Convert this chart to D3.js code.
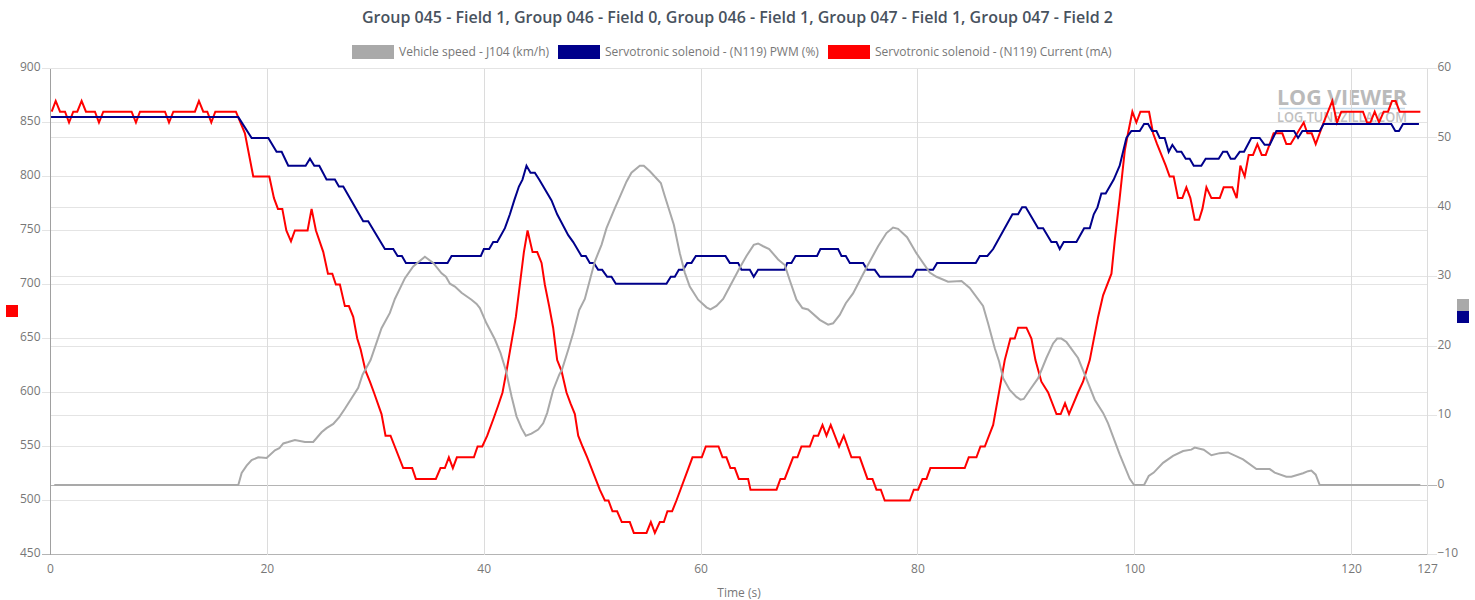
<!DOCTYPE html>
<html>
<head>
<meta charset="utf-8">
<script src="https://d3js.org/d3.v7.min.js"></script>
<style>
    html, body { margin: 0; padding: 0; background: #fff; }
    svg { display: block; font-family: "Open Sans", sans-serif; }
    .tick text { font-size: 12px; fill: #777; font-family: "Open Sans", sans-serif; }
</style>
</head>
<body>
<div id="chart"></div>
<script>
var chartTitle = "Group 045 - Field 1, Group 046 - Field 0, Group 046 - Field 1, Group 047 - Field 1, Group 047 - Field 2";
var xLabel = "Time (s)";
var seriesNames = ["Vehicle speed - J104 (km/h)", "Servotronic solenoid - (N119) PWM (%)", "Servotronic solenoid - (N119) Current (mA)"];
var seriesColors = ["#a9a9a9", "#00008b", "#ff0000"];

var xTicks = [0, 20, 40, 60, 80, 100, 120, 127];
var leftTicks = [450, 500, 550, 600, 650, 700, 750, 800, 850, 900];
var rightTicks = [-10, 0, 10, 20, 30, 40, 50, 60];

// vehicle speed, right axis
var speedTime = [0.35, 17.32, 17.63, 18.09, 18.55, 19.16, 19.93, 20.7, 21.1, 21.47, 21.93, 22.54, 23.47, 24.23, 25, 25.46, 26.08, 26.63, 27.15, 28.38, 28.78, 29.52, 30.53, 31.3, 31.76, 32.69, 33.45, 34.53, 35.3, 36.07, 36.47, 36.84, 37.3, 37.91, 38.83, 39.3, 39.6, 40.21, 40.98, 41.51, 42, 42.52, 42.98, 43.44, 43.84, 44.36, 44.98, 45.44, 45.81, 46.36, 46.92, 47.19, 47.75, 48.21, 48.76, 49.28, 49.74, 50.2, 50.82, 51.28, 52.05, 52.45, 53.12, 53.58, 54.35, 54.72, 55.28, 56.29, 56.66, 57.49, 58.04, 58.5, 58.96, 59.73, 60.5, 60.87, 61.42, 62.04, 62.65, 63.57, 64.19, 64.86, 65.26, 65.73, 66.28, 67.11, 67.72, 68.18, 68.8, 69.35, 69.87, 70.95, 71.72, 72.18, 72.79, 73.35, 74.02, 75.25, 76.33, 77.1, 77.71, 78.17, 79, 79.86, 81.09, 81.71, 82.78, 84.02, 84.78, 86.01, 86.47, 87.09, 87.49, 87.86, 88.47, 89.09, 89.46, 89.76, 90.32, 91.09, 91.85, 92.47, 92.84, 93.24, 93.7, 94.77, 95.39, 96.31, 97.08, 97.54, 98.62, 99.54, 99.94, 100.86, 101.29, 101.75, 102.61, 103.53, 104.46, 105.22, 105.53, 106.36, 107.07, 107.84, 108.6, 109.99, 111.22, 112.45, 112.91, 113.98, 114.44, 115.52, 115.98, 116.29, 116.69, 117.06, 126.34];
var speedValues = [0, 0, 1.75, 2.8, 3.6, 4, 3.9, 5, 5.3, 6, 6.2, 6.5, 6.2, 6.2, 7.6, 8.2, 8.8, 9.8, 11, 14, 15.9, 18, 22.6, 24.8, 26.8, 29.8, 31.5, 32.9, 32, 30.5, 30, 29, 28.6, 27.7, 26.7, 26.1, 25.5, 23.3, 21, 19, 16.5, 12.8, 9.9, 8.2, 7.1, 7.4, 8, 8.9, 10.4, 13.7, 15.9, 16.7, 19.5, 21.9, 25.2, 26.8, 29.5, 32.2, 34.6, 37, 39.9, 41.3, 43.7, 45, 46, 46, 45.2, 43.5, 41.6, 37.5, 33.4, 30.6, 28.6, 26.7, 25.6, 25.3, 25.8, 26.8, 28.6, 31.3, 33, 34.6, 34.8, 34.4, 34, 32.5, 31.7, 29.5, 26.7, 25.5, 25.3, 23.8, 23.1, 23.3, 24.5, 26.2, 27.6, 31.3, 34.4, 36.3, 37.1, 36.9, 35.7, 33.4, 30.6, 30, 29.3, 29.4, 28.4, 25.8, 23.3, 19.7, 17.8, 15.4, 13.7, 12.7, 12.3, 12.4, 13.7, 15.4, 18.3, 20.4, 21.1, 21.1, 20.6, 18.3, 15.9, 12.3, 10.4, 8.9, 4.4, 0.9, 0, 0, 1.3, 1.8, 3.2, 4.2, 4.9, 5.1, 5.4, 5.1, 4.3, 4.6, 4.7, 3.7, 2.3, 2.3, 1.8, 1.2, 1.2, 1.7, 2, 2.1, 1.5, 0, 0];

// solenoid PWM, right axis
var pwmTime = [0.05, 17.32, 18.55, 20.09, 20.85, 21.32, 21.93, 23.53, 23.93, 24.33, 24.79, 25.46, 26.23, 26.6, 27, 28.84, 29.3, 30.84, 31.61, 32.01, 32.41, 32.78, 36.62, 36.99, 39.69, 39.97, 40.46, 40.83, 41.2, 41.91, 42.37, 42.77, 43.2, 43.53, 43.9, 44.27, 44.67, 45.07, 46.21, 46.73, 47.75, 48.21, 48.97, 49.37, 49.74, 50.11, 50.51, 50.88, 51.34, 51.74, 52.14, 56.81, 57.21, 57.58, 57.95, 58.35, 58.72, 59.12, 59.52, 62.25, 62.65, 63.42, 63.73, 64.5, 64.86, 65.26, 67.72, 67.94, 68.34, 68.71, 70.7, 71.01, 72.64, 72.95, 73.35, 73.72, 74.95, 75.32, 76.02, 76.48, 79.5, 79.87, 81.4, 81.77, 85.34, 85.71, 86.41, 86.94, 88.72, 89.24, 89.61, 89.95, 91.09, 91.55, 92.31, 92.78, 93.08, 93.45, 94.62, 95.33, 95.85, 96.22, 96.56, 96.92, 97.32, 98.06, 98.61, 99.23, 99.69, 100.46, 100.86, 101.23, 101.6, 102, 102.3, 102.76, 103.13, 103.47, 103.9, 104.3, 104.7, 105.07, 105.44, 106.14, 106.54, 107.74, 108.14, 108.51, 108.85, 109.22, 109.68, 110.08, 110.75, 111.52, 111.98, 112.45, 113.06, 114.69, 115.06, 115.46, 117.06, 117.42, 123.66, 124.03, 124.37, 124.74, 126.21];
var pwmValues = [53, 53, 50, 50, 48, 48, 46, 46, 47, 46, 46, 44, 44, 43, 43, 38, 38, 34, 34, 33, 33, 32, 32, 33, 33, 34, 34, 35, 35, 37, 39, 41, 43, 44, 46, 45, 45, 44, 41, 39, 36, 35, 33, 33, 32, 32, 31, 31, 30, 30, 29, 29, 30, 30, 31, 31, 32, 32, 33, 33, 32, 32, 31, 31, 30, 31, 31, 32, 32, 33, 33, 34, 34, 33, 33, 32, 32, 31, 31, 30, 30, 31, 31, 32, 32, 33, 33, 34, 39, 39, 40, 40, 37, 37, 35, 35, 34, 35, 35, 37, 37, 39, 40, 42, 42, 44, 46, 50, 51, 51, 52, 52, 51, 51, 50, 50, 48, 49, 48, 48, 47, 47, 46, 46, 47, 47, 48, 48, 47, 47, 48, 48, 50, 50, 49, 49, 51, 51, 50, 51, 51, 52, 52, 51, 51, 52, 52];

// solenoid current, left axis
var currentTime = [0.11, 0.48, 0.88, 1.34, 1.71, 2.1, 2.47, 2.87, 3.27, 4.1, 4.47, 4.87, 7.48, 7.88, 8.25, 10.56, 10.93, 11.33, 13.32, 13.69, 14.09, 14.46, 14.83, 15.2, 17.1, 17.93, 18.7, 20.18, 20.61, 20.98, 21.38, 21.75, 22.18, 22.54, 23.71, 24.08, 24.48, 25.16, 25.59, 25.99, 26.32, 26.69, 27.15, 27.52, 27.92, 28.29, 28.6, 29.06, 29.46, 29.83, 30.53, 30.9, 31.36, 32.53, 33.36, 33.7, 35.54, 35.97, 36.37, 36.74, 37.11, 37.48, 39.05, 39.39, 39.82, 40.28, 40.83, 41.29, 41.69, 42.06, 42.92, 43.29, 43.66, 44, 44.46, 44.89, 45.29, 45.59, 45.99, 46.36, 46.73, 47.13, 47.59, 47.96, 48.36, 48.67, 49.07, 49.5, 50.66, 51.13, 51.46, 51.83, 52.26, 52.69, 53.43, 53.8, 54.97, 55.37, 55.74, 56.2, 56.57, 56.9, 57.33, 57.73, 59.21, 60.07, 60.44, 61.61, 61.98, 62.34, 62.71, 63.11, 63.48, 64.34, 64.56, 66.96, 67.32, 67.72, 68.49, 68.89, 69.26, 70.03, 70.4, 70.8, 71.2, 71.57, 71.96, 72.73, 73.16, 73.87, 74.64, 75.35, 75.81, 76.18, 76.58, 76.94, 79.25, 79.62, 80.02, 80.42, 80.79, 81.15, 84.32, 84.69, 85.4, 85.77, 86.17, 86.94, 88.01, 88.53, 88.93, 89.24, 90.01, 90.47, 90.84, 91.39, 92.01, 92.78, 93.17, 93.57, 93.94, 94.77, 95.23, 95.85, 96.62, 97.08, 97.85, 98.15, 98.61, 99.08, 99.38, 99.78, 100.15, 100.52, 101.32, 101.69, 102.06, 102.46, 102.86, 103.22, 103.59, 103.99, 104.39, 104.76, 105.13, 105.53, 105.93, 106.24, 106.61, 107.07, 107.84, 108.2, 109, 109.4, 109.74, 110.14, 110.51, 110.91, 111.31, 111.71, 112.08, 112.81, 113.61, 113.98, 114.38, 115.58, 115.92, 116.32, 116.69, 117.42, 118.22, 118.65, 119.05, 121.05, 121.42, 121.73, 122.13, 122.53, 122.96, 123.36, 123.73, 124.06, 124.43, 126.34];
var currentValues = [860, 870, 860, 860, 850, 860, 860, 870, 860, 860, 850, 860, 860, 850, 860, 860, 850, 860, 860, 870, 860, 860, 850, 860, 860, 840, 800, 800, 780, 770, 770, 750, 740, 750, 750, 770, 750, 730, 710, 710, 700, 700, 680, 680, 670, 650, 640, 620, 610, 600, 580, 560, 560, 530, 530, 520, 520, 530, 530, 540, 530, 540, 540, 550, 550, 560, 575, 588, 600, 620, 670, 700, 730, 750, 730, 730, 720, 700, 680, 660, 630, 620, 600, 590, 580, 560, 550, 540, 510, 500, 500, 490, 490, 480, 480, 470, 470, 480, 470, 480, 480, 490, 490, 500, 540, 540, 550, 550, 540, 540, 530, 530, 520, 520, 510, 510, 520, 520, 540, 540, 550, 550, 560, 560, 570, 560, 570, 550, 560, 540, 540, 520, 520, 510, 510, 500, 500, 510, 510, 520, 520, 530, 530, 540, 540, 550, 550, 570, 630, 650, 650, 660, 660, 650, 630, 610, 600, 580, 580, 590, 580, 600, 610, 630, 670, 690, 710, 740, 780, 824, 840, 860, 850, 860, 860, 840, 830, 820, 810, 800, 800, 780, 780, 790, 780, 760, 760, 770, 790, 780, 780, 790, 790, 780, 810, 800, 820, 820, 830, 820, 820, 840, 840, 830, 830, 850, 840, 840, 830, 850, 870, 850, 860, 860, 850, 850, 860, 850, 860, 860, 870, 870, 860, 860];

var width = 1475,
    height = 600,
    margin = {top: 68.5, right: 47.5, bottom: 45.5, left: 50.5},
    plotWidth = width - margin.left - margin.right,
    plotHeight = height - margin.top - margin.bottom;

var svg = d3.select("#chart").append("svg")
    .attr("width", width)
    .attr("height", height);

var x = d3.scaleLinear().domain([0, 127]).range([0, plotWidth]);
var yLeft = d3.scaleLinear().domain([450, 900]).range([plotHeight, 0]);
var yRight = d3.scaleLinear().domain([-10, 60]).range([plotHeight, 0]);

var g = svg.append("g")
    .attr("transform", "translate(" + margin.left + "," + margin.top + ")");

// watermark sits behind the grid and the lines
var mark = svg.append("g").lower();
mark.append("text").text("LOG VIEWER")
    .attr("x", 1277).attr("y", 104.5)
    .attr("textLength", 130).attr("lengthAdjust", "spacingAndGlyphs")
    .style("font-size", "21px").style("font-weight", 700).style("fill", "#bababa");
mark.append("line")
    .attr("x1", 1279).attr("x2", 1405).attr("y1", 108.5).attr("y2", 108.5)
    .style("stroke", "#c4d9ea").style("stroke-width", 1.5);
mark.append("text").text("LOG.TUNEZILLA.COM")
    .attr("x", 1277).attr("y", 122)
    .attr("textLength", 130).attr("lengthAdjust", "spacingAndGlyphs")
    .style("font-size", "14px").style("font-weight", 600).style("fill", "#c0c0c0");

// axes, the tick lines double as grid lines
var gridRight = g.append("g")
    .attr("transform", "translate(" + plotWidth + ",0)")
    .call(d3.axisRight(yRight).offset(0).tickValues(rightTicks).tickSize(0).tickFormat(d3.format("d")));
gridRight.selectAll(".tick line")
    .attr("x1", -plotWidth).attr("x2", 9)
    .style("stroke", function (d) { return d === 0 ? "#b4b4b4" : "#e4e4e4"; });
gridRight.selectAll(".tick text").attr("x", 10).attr("dy", "0.22em");

var gridLeft = g.append("g")
    .call(d3.axisLeft(yLeft).offset(0).tickValues(leftTicks).tickSize(0));
gridLeft.selectAll(".tick line")
    .attr("x1", -9).attr("x2", plotWidth)
    .style("stroke", function (d) { return d === 450 ? "#b4b4b4" : "#e4e4e4"; });
gridLeft.selectAll(".tick text").attr("x", -10).attr("dy", "0.22em");

var gridX = g.append("g")
    .attr("transform", "translate(0," + plotHeight + ")")
    .call(d3.axisBottom(x).offset(0).tickValues(xTicks).tickSize(0).tickFormat(d3.format("d")));
gridX.selectAll(".tick line")
    .attr("y1", -plotHeight).attr("y2", 0)
    .style("stroke", function (d) { return d === 0 ? "#a0a0a0" : "#dcdcdc"; });
gridX.selectAll(".tick text").attr("y", 18.5).attr("dy", "0");
g.selectAll(".domain").remove();
g.selectAll(".tick line").style("shape-rendering", "crispEdges");

// chart.js order: the first dataset ends up on top
var series = [
    {time: currentTime, values: currentValues, scale: yLeft, color: seriesColors[2]},
    {time: pwmTime, values: pwmValues, scale: yRight, color: seriesColors[1]},
    {time: speedTime, values: speedValues, scale: yRight, color: seriesColors[0]}
];

series.forEach(function (s) {
    var line = d3.line()
        .x(function (d, i) { return x(s.time[i]); })
        .y(function (d) { return s.scale(d); });
    g.append("path")
        .datum(s.values)
        .attr("d", line)
        .style("fill", "none")
        .style("stroke", s.color)
        .style("stroke-width", 2)
        .style("stroke-linejoin", "miter");
});

// title and axis label
svg.append("text").text(chartTitle)
    .attr("x", 737.5).attr("y", 22.5).attr("text-anchor", "middle")
    .style("font-size", "16px").style("font-weight", 600).style("fill", "#48525e");

svg.append("text").text(xLabel)
    .attr("x", 739).attr("y", 597).attr("text-anchor", "middle")
    .style("font-size", "12px").style("fill", "#777");

// legend
var legendX = [352, 558, 828];
var legend = svg.selectAll(".legend")
    .data(seriesNames)
    .enter().append("g")
    .attr("class", "legend")
    .attr("transform", function (d, i) { return "translate(" + legendX[i] + ",45)"; });
legend.append("rect")
    .attr("width", 42).attr("height", 14)
    .style("fill", function (d, i) { return seriesColors[i]; });
legend.append("text")
    .text(function (d) { return d; })
    .attr("x", 47).attr("y", 10.5)
    .style("font-size", "12px").style("fill", "#777");

// axis handles at the sides
[[6, 305, 2], [1457, 299, 0], [1457, 311, 1]].forEach(function (h) {
    svg.append("rect")
        .attr("x", h[0]).attr("y", h[1]).attr("width", 12).attr("height", 12)
        .style("fill", seriesColors[h[2]]);
});
</script>
</body>
</html>
